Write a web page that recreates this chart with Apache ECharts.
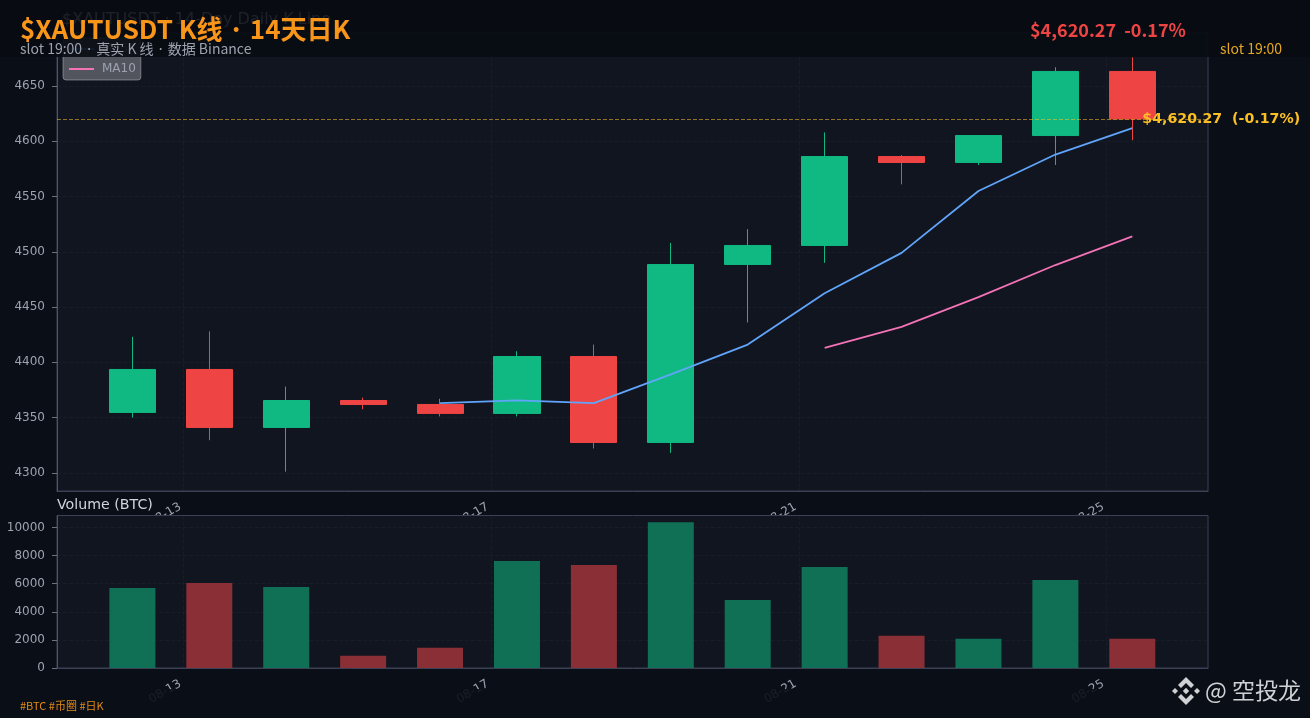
<!DOCTYPE html>
<html><head><meta charset="utf-8">
<style>html,body{margin:0;padding:0;background:#0a0e17}#c{width:1310px;height:718px}</style>
<script src="https://cdn.jsdelivr.net/npm/echarts@6/dist/echarts.min.js"></script>
</head><body><div id="c"></div>
<script>
// day-of-August position of each daily candle (08:00 open)
const dayPos = [12.333,13.333,14.333,15.333,16.333,17.333,18.333,19.333,20.333,21.333,22.333,23.333,24.333,25.333];
const opens  = [4354.6,4393.5,4341,4365.4,4361.8,4353.7,4405.2,4327.4,4488.5,4505.7,4586.2,4580.8,4605.2,4663.2];
const closes = [4393.5,4341,4365.4,4361.8,4353.7,4405.2,4327.4,4488.5,4505.7,4586.2,4580.8,4605.2,4663.2,4620.27];
const lows   = [4350,4329.5,4301,4357.5,4351,4351,4322,4318,4436,4490,4561,4578.5,4578.5,4601];
const highs  = [4423,4428,4378,4368,4367,4410,4416,4508,4520.5,4608,4587.5,4605.2,4667,4676];
const volumes= [5695,6050,5766,872,1440,7610,7326,10376,4844,7184,2290,2078,6262,2078];
const ma5    = [null,null,null,null,4363,4365.6,4363,4389,4416,4462.5,4499,4555,4588,4612];
const ma10   = [null,null,null,null,null,null,null,null,null,4413,4432,4459,4488,4514];
const priceTicks = [4300,4350,4400,4450,4500,4550,4600,4650];
const volTicks = [0,2000,4000,6000,8000,10000];
const dayTicks = [13,17,21,25];
const lastPrice = 4620.27;
const lastPriceLabel = '$4,620.27  (-0.17%)';

const UP='#10b981', DOWN='#ef4444', VUP='#0f7055', VDOWN='#8a2f35';
const TXT='#9ca3af', BORDER='#3a4154', SPLIT='rgba(255,255,255,0.03)';
const FONT='"DejaVu Sans"', CJK='"Noto Sans CJK JP"';
const XMIN=11.353, XMAX=26.317;
const pair = arr => arr.map((v,i)=>[dayPos[i],v]);

function xAxis(gridIndex,z){return {
  type:'value',gridIndex,min:XMIN,max:XMAX,z,
  axisLine:{show:true,lineStyle:{color:BORDER}},
  axisTick:{show:false,customValues:dayTicks},
  axisLabel:{customValues:dayTicks,rotate:30,margin:13,padding:[0,4,0,0],color:TXT,fontSize:12,fontFamily:FONT,
    formatter:v=>'08-'+Math.round(v)},
  splitLine:{show:true,lineStyle:{color:SPLIT,type:'dashed'}}
};}
function yAxis(gridIndex,min,max,ticks,z){return {
  type:'value',gridIndex,min,max,z,
  axisLine:{show:true,lineStyle:{color:'#4b5563'}},
  axisTick:{show:true,length:5,customValues:ticks,lineStyle:{color:'#6b7280'}},
  axisLabel:{customValues:ticks,margin:12,padding:[3,0,0,0],color:TXT,fontSize:12,fontFamily:FONT,formatter:v=>String(v)},
  splitLine:{show:true,lineStyle:{color:SPLIT,type:'dashed'}}
};}

const LOGO='#cfd1d4', lx=1186, ly=691;
const logoPolys=[
  [[lx,ly-14],[lx+8,ly-6],[lx+5,ly-3],[lx,ly-8],[lx-5,ly-3],[lx-8,ly-6]],
  [[lx,ly+14],[lx+8,ly+6],[lx+5,ly+3],[lx,ly+8],[lx-5,ly+3],[lx-8,ly+6]],
  [[lx,ly-3.2],[lx+3.2,ly],[lx,ly+3.2],[lx-3.2,ly]],
  [[lx-11,ly-3],[lx-8,ly],[lx-11,ly+3],[lx-14,ly]],
  [[lx+11,ly-3],[lx+14,ly],[lx+11,ly+3],[lx+8,ly]]
];

const option={
  animation:false,
  backgroundColor:'#0a0e17',
  title:{text:'$XAUTUSDT · 14-Day Daily K-Line',left:57,top:7,
    textStyle:{color:'#e5e7eb',fontSize:16,fontWeight:'normal',fontFamily:FONT}},
  legend:{orient:'vertical',left:63,top:38,padding:5,itemGap:8,itemWidth:25,itemHeight:14,
    data:['MA5','MA10'],backgroundColor:'rgba(200,200,205,0.36)',borderColor:'rgba(200,200,205,0.45)',borderWidth:1,borderRadius:3,
    itemStyle:{opacity:0},
    textStyle:{color:TXT,fontSize:12,fontFamily:FONT,padding:[0,0,0,3]}},
  grid:[
    {left:57,right:102,top:33,height:458,show:true,backgroundColor:'#111520',borderColor:BORDER,borderWidth:1,z:0},
    {left:57,right:102,top:515.5,height:152.5,show:true,backgroundColor:'#111520',borderColor:BORDER,borderWidth:1,z:2}
  ],
  xAxis:[xAxis(0,0),xAxis(1,3)],
  yAxis:[yAxis(0,4283.5,4698,priceTicks,1),yAxis(1,0,10850,volTicks,3)],
  series:[
    {type:'candlestick',name:'K',xAxisIndex:0,yAxisIndex:0,barWidth:46.6,z:1,
      itemStyle:{color:UP,color0:DOWN,borderColor:UP,borderColor0:DOWN,borderWidth:1},
      data:dayPos.map((d,i)=>[d,opens[i],closes[i],lows[i],highs[i]]),
      markLine:{symbol:'none',silent:true,label:{show:false},
        lineStyle:{color:'#fbbf24',opacity:.55,type:'dashed',width:1},
        data:[{yAxis:lastPrice}]},
      markPoint:{symbol:'circle',symbolSize:0,silent:true,
        data:[{coord:[dayPos[dayPos.length-1],lastPrice],
          label:{show:true,position:'right',distance:10,formatter:lastPriceLabel,
            color:'#fbbf24',fontSize:14.2,fontWeight:'bold',fontFamily:FONT}}]}
    },
    {type:'line',name:'MA5',xAxisIndex:0,yAxisIndex:0,data:pair(ma5),showSymbol:false,symbol:'none',z:2,
      lineStyle:{color:'#60a5fa',width:1.8},itemStyle:{color:'#60a5fa'}},
    {type:'line',name:'MA10',xAxisIndex:0,yAxisIndex:0,data:pair(ma10),showSymbol:false,symbol:'none',z:2,
      lineStyle:{color:'#f472b6',width:1.8},itemStyle:{color:'#f472b6'}},
    {type:'bar',name:'Volume',xAxisIndex:1,yAxisIndex:1,barWidth:46,z:4,
      data:volumes.map((v,i)=>({value:[dayPos[i],v],itemStyle:{color:closes[i]>=opens[i]?VUP:VDOWN}}))}
  ],
  graphic:{elements:[
    {type:'rect',z:100,silent:true,shape:{x:0,y:0,width:1310,height:57},style:{fill:'rgba(8,11,18,0.9)'}},
    {type:'rect',z:100,silent:true,shape:{x:0,y:689,width:1310,height:29},style:{fill:'rgba(10,14,23,0.9)'}},
    {type:'text',z:101,silent:true,x:20,y:16,style:{text:'$XAUTUSDT K线 · 14天日K',fill:'#f9961a',font:'bold 26px '+CJK}},
    {type:'text',z:101,silent:true,x:20,y:42,style:{text:'slot 19:00 · 真实 K 线 · 数据 Binance',fill:TXT,font:'14px '+CJK}},
    {type:'text',z:101,silent:true,x:1030,y:21,style:{text:'$4,620.27  -0.17%',fill:DOWN,font:'bold 18px '+CJK}},
    {type:'text',z:101,silent:true,x:1220,y:42,style:{text:'slot 19:00',fill:'#e5a823',font:'14px '+CJK}},
    {type:'text',z:101,silent:true,x:57,y:498,style:{text:'Volume (BTC)',fill:'#d1d5db',font:'14.2px '+FONT}},
    {type:'text',z:101,silent:true,x:20,y:700,style:{text:'#BTC #币圈 #日K',fill:'#e08a16',font:'11px '+CJK}},
    {type:'text',z:101,silent:true,x:1205,y:679,style:{text:'@ 空投龙',fill:LOGO,font:'23px '+CJK}},
    ...logoPolys.map(points=>({type:'polygon',z:101,silent:true,shape:{points},style:{fill:LOGO}}))
  ]}
};
echarts.init(document.getElementById('c'),null,{renderer:'canvas'}).setOption(option);
</script></body></html>
